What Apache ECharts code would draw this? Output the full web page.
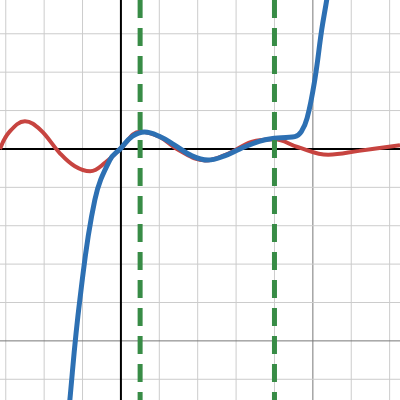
<!DOCTYPE html>
<html>
<head>
<meta charset="utf-8">
<script src="https://cdn.jsdelivr.net/npm/echarts@6/dist/echarts.min.js"></script>
<style>html,body{margin:0;padding:0;background:#fff}#c{width:400px;height:400px}</style>
</head>
<body>
<div id="c"></div>
<script>
// grid ticks
const gridXs = [-3, -2, -1, 1, 2, 3, 4, 5, 6, 7];
const gridYs = [-6, -5, -4, -3, -2, -1, 1, 2, 3];
const majorXs = [5];
const majorYs = [-5];
// dashed vertical markers
const markerXs = [0.5, 4];

// red curve
const redX = [-3.15, -2.9, -2.5, -2.1, -1.6, -1.2, -0.8, -0.4, 0, 0.5, 1.0, 1.5, 2.2, 2.8, 3.4, 4.0, 4.6, 5.4, 6.2, 7.27];
const redY = [0.0, 0.45, 0.72, 0.5, -0.1, -0.45, -0.58, -0.35, 0.02, 0.45, 0.32, -0.03, -0.3, -0.12, 0.18, 0.25, 0.05, -0.15, -0.05, 0.1];

// blue curve
const blueX = [-1.4, -1.33, -1.07, -0.68, -0.29, 0, 0.3, 0.62, 1.0, 1.4, 1.85, 2.27, 2.7, 3.1, 3.6, 4.0, 4.3, 4.53, 4.7, 4.85, 5.05, 5.23, 5.36, 5.45];
const blueY = [-7.5, -6.54, -3.93, -1.33, -0.29, 0.02, 0.33, 0.44, 0.33, 0.1, -0.18, -0.29, -0.18, 0.0, 0.2, 0.28, 0.3, 0.32, 0.45, 0.8, 1.8, 3.1, 3.88, 4.5];

const X0 = -3.15, X1 = 7.27, Y0 = -6.54, Y1 = 3.88;
const chart = echarts.init(document.getElementById('c'));

function seg(data, color, width, type, z) {
  return { type: 'line', data: data, silent: true, showSymbol: false, z: z,
    lineStyle: { color: color, width: width, type: type } };
}

const series = [];
gridXs.forEach(x => series.push(seg([[x, Y0], [x, Y1]], majorXs.includes(x) ? '#777' : '#ccc', 1, 'solid', 1)));
gridYs.forEach(y => series.push(seg([[X0, y], [X1, y]], majorYs.includes(y) ? '#777' : '#ccc', 1, 'solid', 1)));
series.push(seg([[0, Y0], [0, Y1]], '#000', 2, 'solid', 2));
series.push(seg([[X0, 0], [X1, 0]], '#000', 2, 'solid', 2));
series.push({
  type: 'line', smooth: 0.4, showSymbol: false, z: 3,
  lineStyle: { color: '#c74440', width: 4 },
  data: redX.map((x, i) => [x, redY[i]])
});
series.push({
  type: 'line', smooth: 0.4, showSymbol: false, z: 4,
  lineStyle: { color: '#2d70b3', width: 5 },
  data: blueX.map((x, i) => [x, blueY[i]])
});
markerXs.forEach(x => series.push(seg([[x, Y1], [x, Y0]], '#388c46', 5, [18, 10], 5)));

chart.setOption({
  animation: false,
  grid: { left: 0, right: 0, top: 0, bottom: 0 },
  xAxis: { type: 'value', min: X0, max: X1, show: false },
  yAxis: { type: 'value', min: Y0, max: Y1, show: false },
  series: series
});
</script>
</body>
</html>
